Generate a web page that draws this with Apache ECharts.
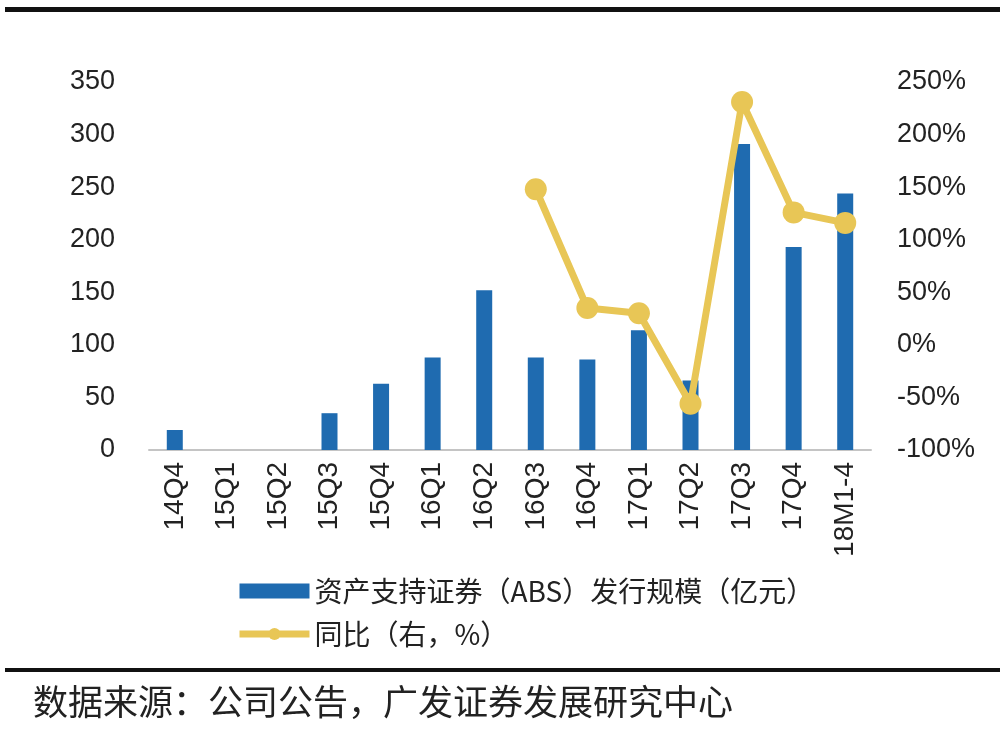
<!DOCTYPE html>
<html>
<head>
<meta charset="utf-8">
<script src="https://cdn.jsdelivr.net/npm/echarts@6/dist/echarts.min.js"></script>
<style>
  html, body { margin: 0; padding: 0; background: #fff; }
  #chart { width: 1000px; height: 738px; }
</style>
</head>
<body>
<div id="chart"></div>
<script>
// 横轴类目
const categories = ['14Q4', '15Q1', '15Q2', '15Q3', '15Q4', '16Q1', '16Q2', '16Q3', '16Q4', '17Q1', '17Q2', '17Q3', '17Q4', '18M1-4'];
// ABS发行规模（亿元）
const absVolume = [19, 0, 0, 35, 63, 88, 152, 88, 86, 114, 66, 291, 193, 244];
// 同比（%），前面没有数据
const yoyPct = [null, null, null, null, null, null, null, 148, 35, 30, -56, 231, 126, 116];
// 左右轴刻度
const leftTicks = {min: 0, max: 350, interval: 50};
const rightTicks = {min: -100, max: 250, interval: 50};

const barName = '资产支持证券（ABS）发行规模（亿元）';
const lineName = '同比（右，%）';
const sourceText = '数据来源：公司公告，广发证券发展研究中心';

const labelFont = '"Liberation Sans", Arial, sans-serif';
const cjkFont = '"Noto Sans CJK SC", sans-serif';

const chart = echarts.init(document.getElementById('chart'));

const option = {
  backgroundColor: '#fff',
  animation: false,
  grid: {left: 149, right: 129, top: 82, bottom: 288},
  legend: {
    orient: 'vertical',
    left: 231,
    top: 572,
    itemWidth: 70,
    itemHeight: 15,
    itemGap: 15,
    textStyle: {fontFamily: cjkFont, fontSize: 28, color: '#222'},
    data: [
      {name: barName, icon: 'rect'},
      {name: lineName, itemStyle: {color: '#e8c656'}, lineStyle: {width: 7, color: '#e8c656'}}
    ]
  },
  xAxis: {
    type: 'category',
    data: categories,
    axisLine: {lineStyle: {color: '#c4c4c4', width: 2}},
    axisTick: {show: false},
    axisLabel: {
      rotate: 90,
      interval: 0,
      margin: 12,
      fontFamily: labelFont,
      fontSize: 28,
      color: '#222'
    }
  },
  yAxis: [
    {
      type: 'value',
      min: leftTicks.min,
      max: leftTicks.max,
      interval: leftTicks.interval,
      splitLine: {show: false},
      axisLine: {show: false},
      axisTick: {show: false},
      axisLabel: {margin: 34, fontFamily: labelFont, fontSize: 27, color: '#222'}
    },
    {
      type: 'value',
      min: rightTicks.min,
      max: rightTicks.max,
      interval: rightTicks.interval,
      splitLine: {show: false},
      axisLine: {show: false},
      axisTick: {show: false},
      axisLabel: {margin: 26, formatter: '{value}%', fontFamily: labelFont, fontSize: 27, color: '#222'}
    }
  ],
  series: [
    {
      name: barName,
      type: 'bar',
      data: absVolume,
      barWidth: 16,
      itemStyle: {color: '#1f6bb0'}
    },
    {
      name: lineName,
      type: 'line',
      yAxisIndex: 1,
      data: yoyPct,
      symbol: 'circle',
      symbolSize: 22,
      lineStyle: {color: '#e8c656', width: 7},
      itemStyle: {color: '#e8c656'},
      z: 3
    }
  ],
  graphic: [
    // 上下两条黑色粗线
    {type: 'rect', left: 5, top: 7, shape: {width: 995, height: 5}, style: {fill: '#111'}},
    {type: 'rect', left: 5, top: 668, shape: {width: 995, height: 4}, style: {fill: '#111'}},
    {
      type: 'text',
      left: 33,
      top: 684,
      style: {text: sourceText, font: '35px "Noto Sans CJK SC", sans-serif', fill: '#222'}
    }
  ]
};

chart.setOption(option);
</script>
</body>
</html>
